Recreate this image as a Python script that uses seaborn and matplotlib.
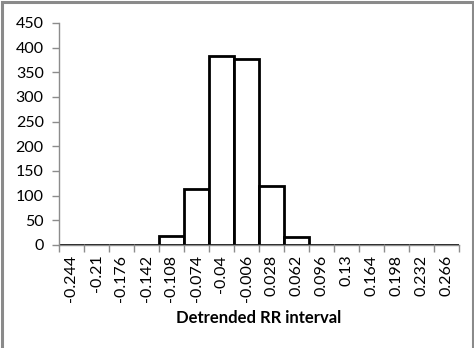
import matplotlib
matplotlib.use("Agg")
import matplotlib.pyplot as plt
import seaborn as sns
import pandas as pd
from matplotlib.patches import Rectangle

sns.set_theme(style="white")
plt.rcParams["font.family"] = ["Lato", "DejaVu Sans"]

bins = ["-0.244", "-0.21", "-0.176", "-0.142", "-0.108", "-0.074", "-0.04",
        "-0.006", "0.028", "0.062", "0.096", "0.13", "0.164", "0.198",
        "0.232", "0.266"]
counts = [0, 0, 0, 0, 18, 113, 383, 378, 120, 16, 0, 0, 0, 0, 0, 0]

df = pd.DataFrame({"interval": bins, "count": counts})

fig = plt.figure(figsize=(4.74, 3.48), dpi=100)
ax = fig.add_axes([59 / 474, 1 - 245 / 348, 400 / 474, 222 / 348])

sns.barplot(data=df, x="interval", y="count", ax=ax, color="white",
            edgecolor="black", linewidth=2.0, width=1.0, saturation=1)

ax.set_xlim(-0.5, len(bins) - 0.5)
ax.set_ylim(0, 450)
ax.set_yticks(range(0, 451, 50))
ax.set_xticks(range(len(bins)))
ax.set_xticklabels(bins, rotation=90)
ax.set_xticks([i - 0.5 for i in range(len(bins) + 1)], minor=True)

ax.tick_params(axis="x", which="major", length=0, pad=7, labelsize=11.5,
               labelcolor="black")
ax.tick_params(axis="x", which="minor", length=5, width=1, color="#8c8c8c",
               direction="out", bottom=True)
ax.tick_params(axis="y", which="major", length=5, width=1, color="#8c8c8c",
               direction="out", left=True, labelsize=11.5, labelcolor="black",
               pad=6)

for side in ["top", "right"]:
    ax.spines[side].set_visible(False)
for side in ["left", "bottom"]:
    ax.spines[side].set_color("#8c8c8c")
    ax.spines[side].set_linewidth(1)

ax.set_ylabel("")
ax.set_xlabel("Detrended RR interval", fontsize=12, fontweight="bold",
              labelpad=6, color="black")

# chart area frame
fig.patches.append(Rectangle((1.5 / 474, -0.05), 471 / 474, 1.05 - 1.5 / 348,
                             transform=fig.transFigure, fill=False,
                             edgecolor="#8a8a8a", linewidth=2.2))

fig.savefig("out.png", dpi=100)
